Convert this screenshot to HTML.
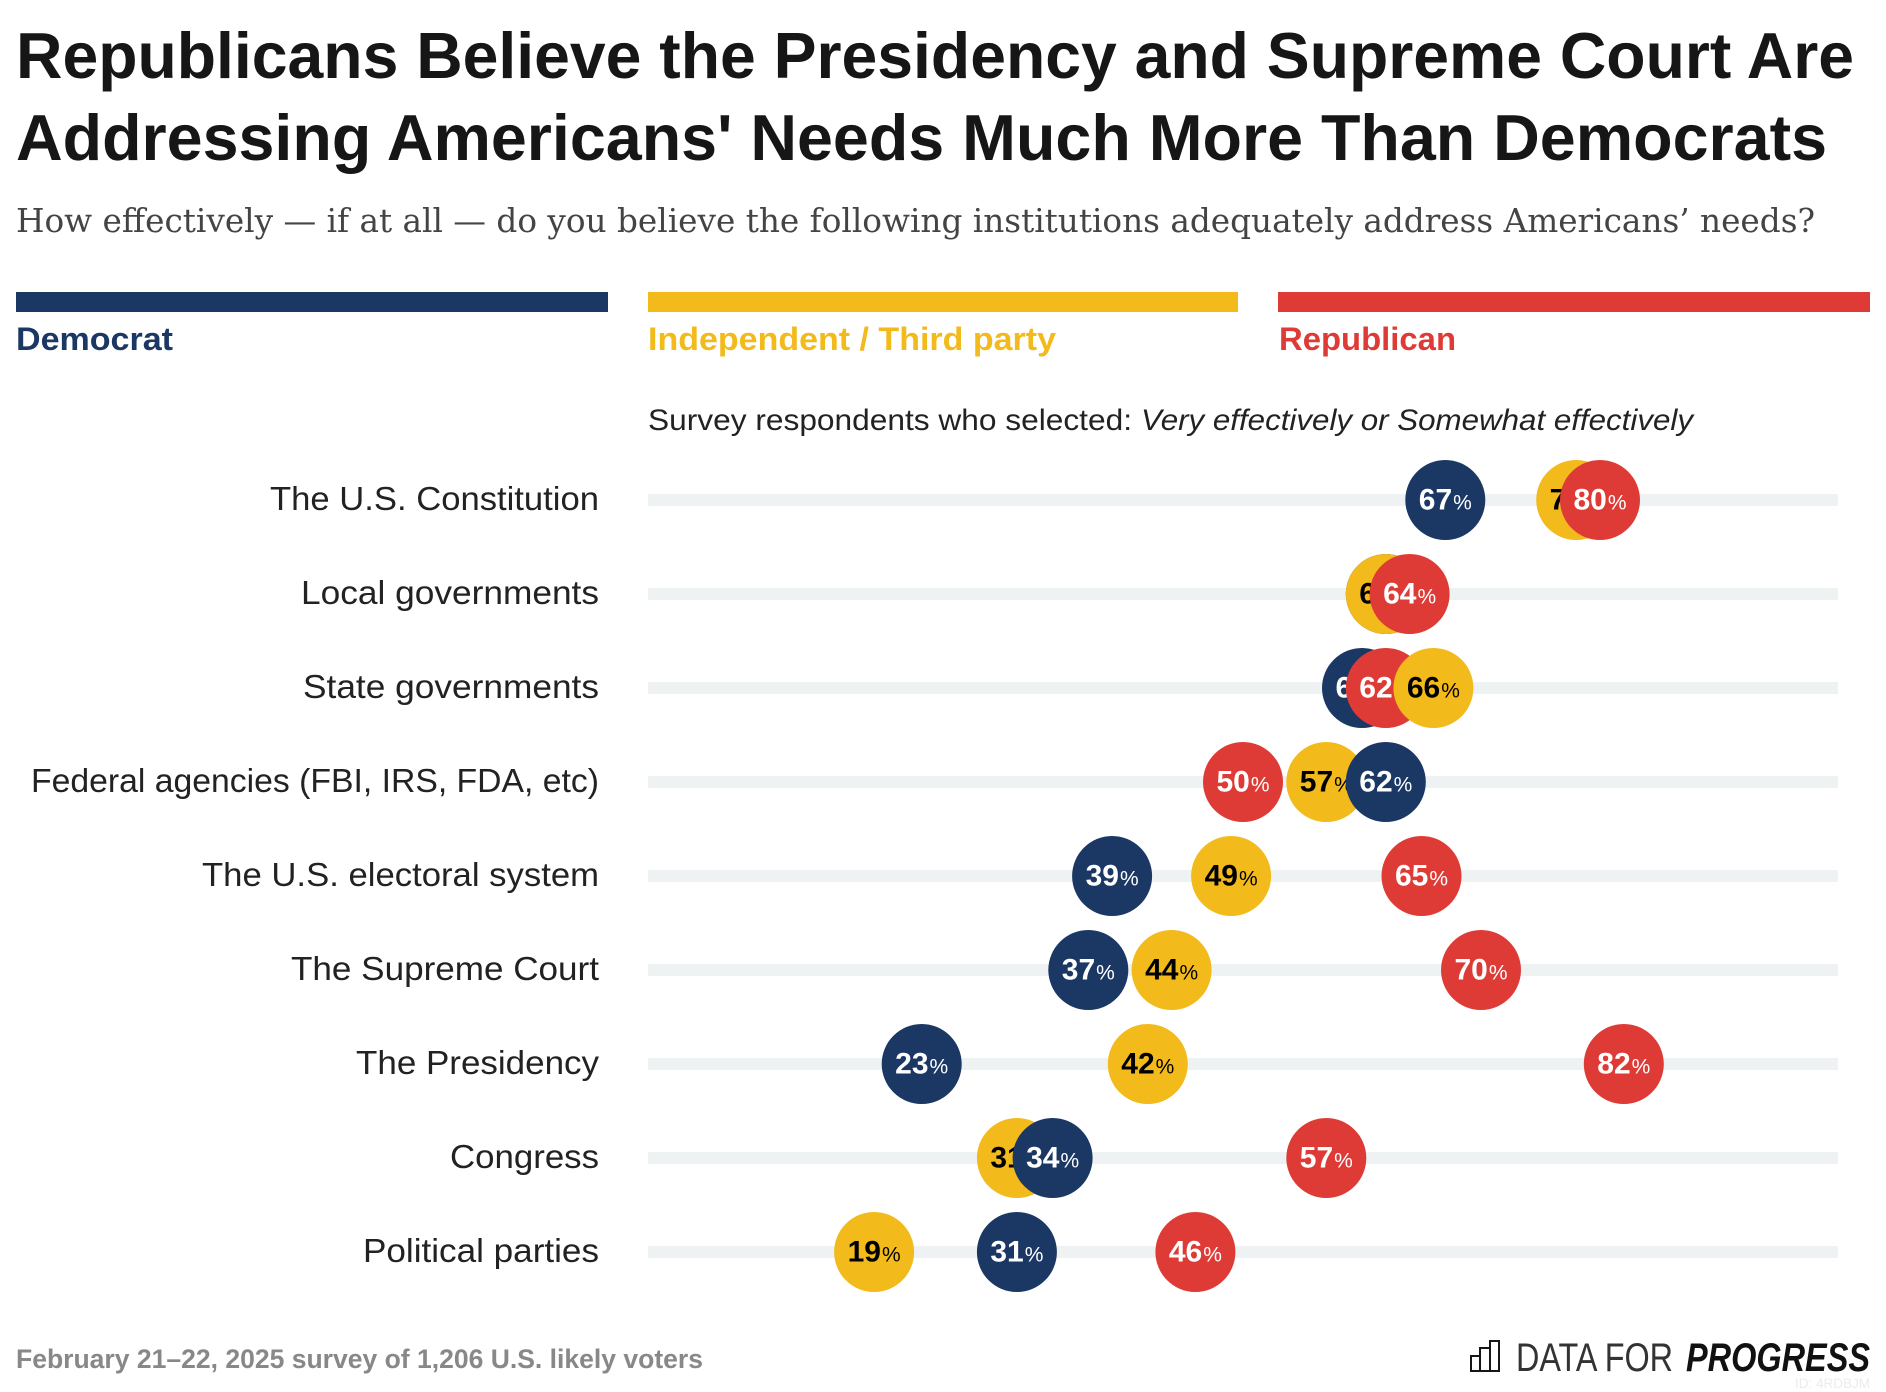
<!DOCTYPE html>
<html lang="en">
<head>
<meta charset="utf-8">
<title>Republicans Believe the Presidency and Supreme Court Are Addressing Americans' Needs</title>
<style>
html,body{margin:0;padding:0;background:#fff;width:1886px;height:1392px;overflow:hidden}
svg{display:block}
text{font-family:"Liberation Sans",sans-serif}
</style>
</head>
<body>
<svg id="chart" xmlns="http://www.w3.org/2000/svg" width="1886" height="1392" viewBox="0 0 1886 1392">
  <rect width="1886" height="1392" fill="#fff"/>
  <text x="16" y="78" font-size="65" font-weight="700" fill="#161616" textLength="1838" lengthAdjust="spacingAndGlyphs">Republicans Believe the Presidency and Supreme Court Are</text>
  <text x="16" y="160" font-size="65" font-weight="700" fill="#161616" textLength="1811" lengthAdjust="spacingAndGlyphs">Addressing Americans' Needs Much More Than Democrats</text>
  <text x="16" y="232" font-size="33" fill="#444" style="font-family:'DejaVu Serif',serif" textLength="1799" lengthAdjust="spacingAndGlyphs">How effectively — if at all — do you believe the following institutions adequately address Americans’ needs?</text>

  <rect x="16" y="292" width="592" height="20" fill="#1B3763"/>
  <rect x="648" y="292" width="590" height="20" fill="#F2BA1B"/>
  <rect x="1278" y="292" width="592" height="20" fill="#DE3B36"/>
  <text x="16" y="350" font-size="32" font-weight="700" fill="#1B3763" textLength="157" lengthAdjust="spacingAndGlyphs">Democrat</text>
  <text x="648" y="350" font-size="32" font-weight="700" fill="#F2BA1B" textLength="408" lengthAdjust="spacingAndGlyphs">Independent / Third party</text>
  <text x="1279" y="350" font-size="32" font-weight="700" fill="#DE3B36" textLength="177" lengthAdjust="spacingAndGlyphs">Republican</text>

  <text x="648" y="430" font-size="30" fill="#222" textLength="484" lengthAdjust="spacingAndGlyphs">Survey respondents who selected:</text>
  <text x="1141" y="430" font-size="30" font-style="italic" fill="#222" textLength="552" lengthAdjust="spacingAndGlyphs">Very effectively or Somewhat effectively</text>

  <g id="tracks"></g>
  <g font-size="33" text-anchor="end" fill="#222">
    <text x="599" y="510" textLength="329" lengthAdjust="spacingAndGlyphs">The U.S. Constitution</text>
    <text x="599" y="604" textLength="298" lengthAdjust="spacingAndGlyphs">Local governments</text>
    <text x="599" y="698" textLength="296" lengthAdjust="spacingAndGlyphs">State governments</text>
    <text x="599" y="792" textLength="568" lengthAdjust="spacingAndGlyphs">Federal agencies (FBI, IRS, FDA, etc)</text>
    <text x="599" y="886" textLength="397" lengthAdjust="spacingAndGlyphs">The U.S. electoral system</text>
    <text x="599" y="980" textLength="308" lengthAdjust="spacingAndGlyphs">The Supreme Court</text>
    <text x="599" y="1074" textLength="243" lengthAdjust="spacingAndGlyphs">The Presidency</text>
    <text x="599" y="1168" textLength="149" lengthAdjust="spacingAndGlyphs">Congress</text>
    <text x="599" y="1262" textLength="236" lengthAdjust="spacingAndGlyphs">Political parties</text>
  </g>
  <g id="marks"></g>

  <text x="16" y="1368" font-size="27" font-weight="700" fill="#888" textLength="687" lengthAdjust="spacingAndGlyphs">February 21–22, 2025 survey of 1,206 U.S. likely voters</text>

  <g fill="none" stroke="#161616" stroke-width="2">
    <rect x="1471" y="1356" width="9" height="15"/>
    <rect x="1480" y="1348" width="10" height="23"/>
    <rect x="1490" y="1341" width="9" height="30"/>
  </g>
  <text x="1516" y="1371" font-size="40" fill="#333" textLength="157" lengthAdjust="spacingAndGlyphs">DATA FOR</text>
  <text x="1686" y="1371" font-size="40" font-weight="700" font-style="italic" fill="#111" textLength="184" lengthAdjust="spacingAndGlyphs">PROGRESS</text>
  <text x="1870" y="1388" font-size="14" text-anchor="end" fill="#ececec" textLength="75" lengthAdjust="spacingAndGlyphs">ID: 4RDBJM</text>
</svg>
<script>
const categories = ["The U.S. Constitution","Local governments","State governments","Federal agencies (FBI, IRS, FDA, etc)","The U.S. electoral system","The Supreme Court","The Presidency","Congress","Political parties"];
const democrat = [67,62,60,62,39,37,23,34,31];
const independent = [78,62,66,57,49,44,42,31,19];
const republican = [80,64,62,50,65,70,82,57,46];

const NS = "http://www.w3.org/2000/svg";
function xScale(v){ return 648 + (v / 100) * 1190; }
function yScale(i){ return 500 + i * 94; }
function make(tag, attrs, parent){
  const el = document.createElementNS(NS, tag);
  for (const k in attrs) el.setAttribute(k, attrs[k]);
  parent.appendChild(el);
  return el;
}
const tracks = document.getElementById("tracks");
const marks = document.getElementById("marks");
const parties = [
  {key:"democrat", values:democrat, fill:"#1B3763", ink:"#fff"},
  {key:"independent", values:independent, fill:"#F2BA1B", ink:"#000"},
  {key:"republican", values:republican, fill:"#DE3B36", ink:"#fff"}
];
categories.forEach(function(cat, i){
  const y = yScale(i);
  const track = make("rect", {x:648, y:y-6, width:1190, height:12, fill:"#EEF2F3"}, tracks);
  
  
  track.setAttribute('aria-label', cat);
  parties
    .map(function(p){ return {p:p, v:p.values[i]}; })
    .sort(function(a,b){ return a.v - b.v; })
    .forEach(function(d){
      const cx = xScale(d.v);
      const g = make("g", {}, marks);
      
      
      g.setAttribute('aria-label', cat);
      make("circle", {cx:cx, cy:y, r:40, fill:d.p.fill}, g);
      const t = make("text", {x:cx, y:y+9.5, "text-anchor":"middle", fill:d.p.ink, "font-size":30, "font-weight":700}, g);
      
      
      t.appendChild(document.createTextNode(String(d.v)));
      const pct = make("tspan", {"font-size":21, "font-weight":400, dx:1}, t);
      pct.textContent = "%";
    });
});
</script>
</body>
</html>
